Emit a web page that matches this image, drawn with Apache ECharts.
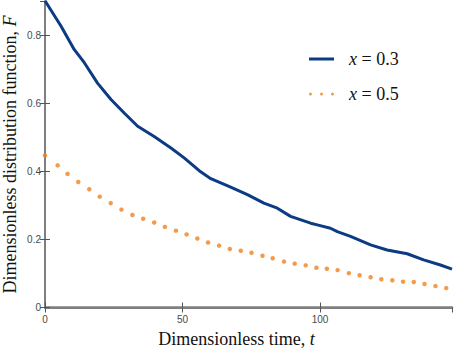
<!DOCTYPE html>
<html>
<head>
<meta charset="utf-8">
<script src="https://cdn.jsdelivr.net/npm/echarts@6/dist/echarts.min.js"></script>
<style>
html,body{margin:0;padding:0;background:#fff;}
#chart{width:474px;height:349px;}
</style>
</head>
<body>
<div id="chart"></div>
<script>
// Dimensionless time t and F for x = 0.3 (solid line)
var t03 = [0, 5.8, 10.6, 14.3, 19.1, 24.0, 28.8, 33.7, 39.7, 45.8, 50.6, 56.6, 60.3, 67.5, 73.6, 79.6, 84.5, 89.3, 96.6, 99.0, 103.8, 106.3, 111.1, 118.4, 124.4, 131.7, 137.7, 143.8, 148];
var f03 = [0.902, 0.828, 0.759, 0.720, 0.660, 0.612, 0.572, 0.533, 0.503, 0.469, 0.440, 0.399, 0.379, 0.354, 0.332, 0.307, 0.292, 0.268, 0.248, 0.243, 0.233, 0.223, 0.209, 0.184, 0.169, 0.158, 0.140, 0.125, 0.113];
// Dimensionless time t and F for x = 0.5 (dotted)
var t05 = [0, 4.6, 8.2, 12.1, 16.1, 19.9, 23.9, 27.8, 31.8, 35.7, 39.7, 43.6, 47.6, 51.5, 55.4, 59.3, 63.3, 67.2, 71.2, 75.1, 79.1, 82.8, 86.9, 90.8, 94.8, 98.7, 102.5, 106.4, 110.5, 114.4, 118.4, 122.3, 126.3, 130.2, 134.1, 138.0, 142.0, 145.9];
var f05 = [0.447, 0.418, 0.393, 0.369, 0.348, 0.326, 0.307, 0.288, 0.272, 0.261, 0.250, 0.237, 0.226, 0.215, 0.203, 0.191, 0.182, 0.172, 0.167, 0.161, 0.152, 0.145, 0.135, 0.129, 0.124, 0.117, 0.114, 0.110, 0.101, 0.095, 0.089, 0.083, 0.080, 0.076, 0.075, 0.069, 0.063, 0.057];
var seriesNames = ['x = 0.3', 'x = 0.5'];
var xTicks = {min: 0, max: 148, interval: 50};
var yTicks = {min: 0, max: 0.9, interval: 0.2};

function zip(a, b) { return a.map(function (v, i) { return [v, b[i]]; }); }

var axisGray = '#7f7f7f';
var labelStyle = {fontFamily: 'Liberation Sans', fontSize: 10, color: '#4a4a4a', margin: 4};
var titleFont = 'Liberation Serif';
var dotsIcon = 'path://M0,1.5a1.5,1.5 0 1,0 3,0a1.5,1.5 0 1,0 -3,0ZM11,1.5a1.5,1.5 0 1,0 3,0a1.5,1.5 0 1,0 -3,0ZM22,1.5a1.5,1.5 0 1,0 3,0a1.5,1.5 0 1,0 -3,0Z';

var chart = echarts.init(document.getElementById('chart'), null, {renderer: 'svg'});
chart.setOption({
  animation: false,
  backgroundColor: '#fff',
  grid: {left: 45, right: 22, top: 1.5, bottom: 41.5, containLabel: false, outerBoundsMode: 'none'},
  legend: {
    orient: 'vertical', left: 304, top: 44, itemGap: 15,
    itemWidth: 25, itemHeight: 3,
    data: [
      {name: seriesNames[0], icon: 'rect'},
      {name: seriesNames[1], icon: dotsIcon}
    ],
    formatter: function (n) { return '{i|x} = ' + n.split('= ')[1]; },
    textStyle: {
      fontFamily: titleFont, fontSize: 18, color: '#111', lineHeight: 20, padding: [0, 0, 0, 10],
      rich: {i: {fontFamily: titleFont, fontSize: 18, fontStyle: 'italic', color: '#111'}}
    }
  },
  xAxis: [{
    type: 'value', min: xTicks.min, max: xTicks.max, interval: xTicks.interval,
    position: 'bottom',
    name: '{n|Dimensionless time, }{i|t}', nameLocation: 'middle', nameGap: 21, nameMoveOverlap: false,
    nameTextStyle: {padding: [0, 24, 0, 0], lineHeight: 20,
      rich: {n: {fontFamily: titleFont, fontSize: 18, color: '#111', lineHeight: 20},
             i: {fontFamily: titleFont, fontSize: 18, fontStyle: 'italic', color: '#111', lineHeight: 20}}},
    axisLine: {lineStyle: {color: axisGray, width: 2}},
    axisTick: {inside: true, length: 5, lineStyle: {color: '#555', width: 1}},
    axisLabel: Object.assign({showMaxLabel: false}, labelStyle, {margin: 7}),
    splitLine: {show: false}
  }, {
    type: 'value', min: xTicks.min, max: xTicks.max, interval: xTicks.interval,
    position: 'top',
    axisLine: {lineStyle: {color: axisGray, width: 2.5}},
    axisTick: {inside: true, length: 5, lineStyle: {color: '#555', width: 1}},
    axisLabel: {show: false},
    splitLine: {show: false}
  }],
  yAxis: [{
    type: 'value', min: yTicks.min, max: yTicks.max, interval: yTicks.interval,
    position: 'left',
    name: '{n|Dimensionless distribution function, }{i|F}', nameLocation: 'middle', nameGap: 25, nameMoveOverlap: false,
    nameTextStyle: {lineHeight: 20,
      rich: {n: {fontFamily: titleFont, fontSize: 18, color: '#111', lineHeight: 20},
             i: {fontFamily: titleFont, fontSize: 18, fontStyle: 'italic', color: '#111', lineHeight: 20}}},
    axisLine: {lineStyle: {color: axisGray, width: 2}},
    axisTick: {inside: true, length: 5, lineStyle: {color: '#555', width: 1}},
    axisLabel: Object.assign({showMaxLabel: false, formatter: function (v) { return v === 0 ? '0' : v.toFixed(1); }}, labelStyle),
    splitLine: {show: false}
  }, {
    type: 'value', min: yTicks.min, max: yTicks.max, interval: yTicks.interval,
    position: 'right',
    axisLine: {lineStyle: {color: axisGray, width: 2}},
    axisTick: {inside: true, length: 5, lineStyle: {color: '#555', width: 1}},
    axisLabel: {show: false},
    splitLine: {show: false}
  }],
  series: [{
    name: seriesNames[0], type: 'line', xAxisIndex: 0, yAxisIndex: 0,
    data: zip(t03, f03), showSymbol: false, symbol: 'none',
    lineStyle: {color: '#0b3b84', width: 3},
    itemStyle: {color: '#0b3b84'}
  }, {
    name: seriesNames[1], type: 'scatter', xAxisIndex: 0, yAxisIndex: 0,
    data: zip(t05, f05), symbol: 'circle', symbolSize: 4.5,
    itemStyle: {color: '#f0821f'}
  }]
});
</script>
</body>
</html>
